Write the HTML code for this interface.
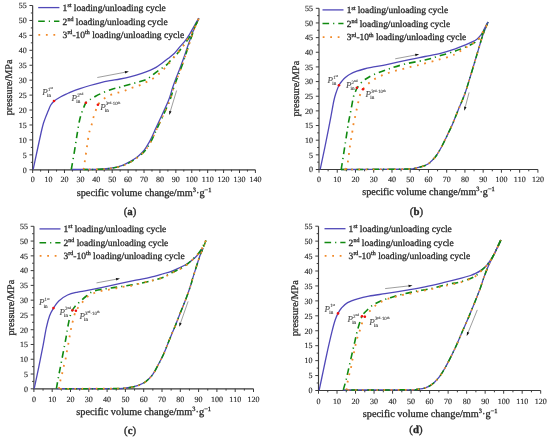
<!DOCTYPE html>
<html><head><meta charset="utf-8"><title>Pressure vs specific volume change</title>
<style>
html,body{margin:0;padding:0;background:#fff;}
svg{display:block}
text{text-rendering:geometricPrecision;font-variant-ligatures:none;font-kerning:none}
.tl{font-family:'Liberation Serif','Times New Roman',serif;font-size:8px;fill:#2a2a2a;stroke:#2a2a2a;stroke-width:0.15px}
.al{font-family:'Liberation Serif','Times New Roman',serif;font-size:10.15px;fill:#2a2a2a;stroke:#2a2a2a;stroke-width:0.3px}
.cap{font-family:'Liberation Serif','Times New Roman',serif;font-size:10.8px;font-weight:bold;fill:#2a2a2a;stroke:#2a2a2a;stroke-width:0.35px}
.lg{font-family:'Liberation Serif','Times New Roman',serif;font-size:9.4px;fill:#2a2a2a;stroke:#2a2a2a;stroke-width:0.3px}
.pl{font-family:'Liberation Serif','Times New Roman',serif;font-size:9px;fill:#505050;stroke:#505050;stroke-width:0.12px}
</style></head><body>
<svg width="550" height="438" viewBox="0 0 550 438">
<rect width="550" height="438" fill="#fff"/>
<g><path d="M32.65,5.5V169.8H255.4" fill="none" stroke="#3c3c3c" stroke-width="1.15"/>
<path d="M29.45,169.8H32.65M30.85,162.33H32.65M29.45,154.86H32.65M30.85,147.4H32.65M29.45,139.93H32.65M30.85,132.46H32.65M29.45,124.99H32.65M30.85,117.52H32.65M29.45,110.05H32.65M30.85,102.59H32.65M29.45,95.12H32.65M30.85,87.65H32.65M29.45,80.18H32.65M30.85,72.71H32.65M29.45,65.25H32.65M30.85,57.78H32.65M29.45,50.31H32.65M30.85,42.84H32.65M29.45,35.37H32.65M30.85,27.9H32.65M29.45,20.44H32.65M30.85,12.97H32.65M29.45,5.5H32.65M32.65,169.8V173M40.61,169.8V171.6M48.56,169.8V173M56.52,169.8V171.6M64.47,169.8V173M72.43,169.8V171.6M80.38,169.8V173M88.34,169.8V171.6M96.29,169.8V173M104.25,169.8V171.6M112.2,169.8V173M120.16,169.8V171.6M128.11,169.8V173M136.07,169.8V171.6M144.03,169.8V173M151.98,169.8V171.6M159.94,169.8V173M167.89,169.8V171.6M175.85,169.8V173M183.8,169.8V171.6M191.76,169.8V173M199.71,169.8V171.6M207.67,169.8V173M215.62,169.8V171.6M223.58,169.8V173M231.53,169.8V171.6M239.49,169.8V173M247.44,169.8V171.6M255.4,169.8V173" stroke="#3c3c3c" stroke-width="1"/>
<text x="26.75" y="172.6" text-anchor="end" class="tl">0</text>
<text x="26.75" y="157.66" text-anchor="end" class="tl">5</text>
<text x="26.75" y="142.73" text-anchor="end" class="tl">10</text>
<text x="26.75" y="127.79" text-anchor="end" class="tl">15</text>
<text x="26.75" y="112.85" text-anchor="end" class="tl">20</text>
<text x="26.75" y="97.92" text-anchor="end" class="tl">25</text>
<text x="26.75" y="82.98" text-anchor="end" class="tl">30</text>
<text x="26.75" y="68.05" text-anchor="end" class="tl">35</text>
<text x="26.75" y="53.11" text-anchor="end" class="tl">40</text>
<text x="26.75" y="38.17" text-anchor="end" class="tl">45</text>
<text x="26.75" y="23.24" text-anchor="end" class="tl">50</text>
<text x="26.75" y="8.3" text-anchor="end" class="tl">55</text>
<text x="32.65" y="182.1" text-anchor="middle" class="tl">0</text>
<text x="48.56" y="182.1" text-anchor="middle" class="tl">10</text>
<text x="64.47" y="182.1" text-anchor="middle" class="tl">20</text>
<text x="80.38" y="182.1" text-anchor="middle" class="tl">30</text>
<text x="96.29" y="182.1" text-anchor="middle" class="tl">40</text>
<text x="112.2" y="182.1" text-anchor="middle" class="tl">50</text>
<text x="128.11" y="182.1" text-anchor="middle" class="tl">60</text>
<text x="144.03" y="182.1" text-anchor="middle" class="tl">70</text>
<text x="159.94" y="182.1" text-anchor="middle" class="tl">80</text>
<text x="175.85" y="182.1" text-anchor="middle" class="tl">90</text>
<text x="191.76" y="182.1" text-anchor="middle" class="tl">100</text>
<text x="207.67" y="182.1" text-anchor="middle" class="tl">110</text>
<text x="223.58" y="182.1" text-anchor="middle" class="tl">120</text>
<text x="239.49" y="182.1" text-anchor="middle" class="tl">130</text>
<text x="255.4" y="182.1" text-anchor="middle" class="tl">140</text>
<text transform="translate(11.7,87.4) rotate(-90)" text-anchor="middle" class="al">pressure/MPa</text>
<text x="144" y="195.8" text-anchor="middle" class="al" style="font-size:10.3px">specific volume change/mm<tspan dy="-3.8" font-size="6.4">3</tspan><tspan dy="3.8">·g</tspan><tspan dy="-3.8" font-size="6.4">−1</tspan></text>
<text x="130" y="214.6" text-anchor="middle" class="cap"><tspan style="font-weight:normal">(</tspan>a<tspan style="font-weight:normal">)</tspan></text>
<path d="M38.2,7.6H59.4" stroke="#5048b8" stroke-width="1.3" fill="none"/>
<path d="M38.2,21.3H59.4" stroke="#108a10" stroke-width="1.6" fill="none" stroke-dasharray="6.6 4 1.2 4"/>
<path d="M38.4,34.8H59.4" stroke="#f28a2a" stroke-width="1.8" fill="none" stroke-dasharray="1.8 5.7"/>
<text x="62.6" y="10.9" class="lg" style="font-size:9.55px"><tspan>1</tspan><tspan dy="-3.8" font-size="6">st</tspan><tspan dy="3.8"> </tspan> loading/unloading cycle</text>
<text x="62.6" y="24.5" class="lg" style="font-size:9.55px"><tspan>2</tspan><tspan dy="-3.8" font-size="6">nd</tspan><tspan dy="3.8"> </tspan> loading/unloading cycle</text>
<text x="62.6" y="37.9" class="lg" style="font-size:9.55px"><tspan>3</tspan><tspan dy="-3.8" font-size="6">rd</tspan><tspan dy="3.8">-10</tspan><tspan dy="-3.8" font-size="6">th</tspan><tspan dy="3.8"> </tspan> loading/unloading cycle</text>
<path d="M198.8,18.4 C198.27,19.55 196.57,23.13 195.6,25.3 C194.63,27.47 193.87,29.18 193,31.4 C192.13,33.62 191.43,35.68 190.4,38.6 C189.37,41.52 188.03,45.33 186.8,48.9 C185.57,52.47 184.22,56.57 183,60 C181.78,63.43 180.67,66.45 179.5,69.5 C178.33,72.55 177.17,75.22 176,78.3 C174.83,81.38 173.72,84.38 172.5,88 C171.28,91.62 170.45,95.5 168.7,100 C166.95,104.5 164.13,110.33 162,115 C159.87,119.67 157.45,124.62 155.9,128 C154.35,131.38 153.85,132.87 152.7,135.3 C151.55,137.73 150.38,140.17 149,142.6 C147.62,145.03 146.07,147.77 144.4,149.9 C142.73,152.03 140.82,153.8 139,155.4 C137.18,157 135.33,158.28 133.5,159.5 C131.67,160.72 129.95,161.68 128,162.7 C126.05,163.72 124.65,164.7 121.8,165.6 C118.95,166.5 114.53,167.52 110.9,168.1 C107.27,168.68 104.32,168.88 100,169.1 C95.68,169.32 89.75,169.33 85,169.4 C80.25,169.47 73.75,169.48 71.5,169.5" stroke="#5048b8" stroke-width="1.3" fill="none" stroke-linejoin="round"/>
<path d="M198.8,18.4 C198.3,19.55 196.7,23.13 195.8,25.3 C194.9,27.47 194.2,29.18 193.4,31.4 C192.6,33.62 191.97,35.68 191,38.6 C190.03,41.52 188.77,45.33 187.6,48.9 C186.43,52.47 185.17,56.57 184,60 C182.83,63.43 181.73,66.45 180.6,69.5 C179.47,72.55 178.35,75.22 177.2,78.3 C176.05,81.38 174.9,84.38 173.7,88 C172.5,91.62 171.72,95.5 170,100 C168.28,104.5 165.52,110.33 163.4,115 C161.28,119.67 158.87,124.62 157.3,128 C155.73,131.38 155.15,132.87 154,135.3 C152.85,137.73 151.78,140.17 150.4,142.6 C149.02,145.03 147.4,147.77 145.7,149.9 C144,152.03 142.05,153.8 140.2,155.4 C138.35,157 136.47,158.25 134.6,159.5 C132.73,160.75 131.02,161.85 129,162.9 C126.98,163.95 125.42,164.92 122.5,165.8 C119.58,166.68 115.25,167.63 111.5,168.2 C107.75,168.77 104.65,168.98 100,169.2 C95.35,169.42 86.33,169.45 83.6,169.5" stroke="#108a10" stroke-width="1.5" fill="none" stroke-dasharray="6.6 4 1.2 4"/>
<path d="M198.8,18.4 C198.3,19.55 196.7,23.13 195.8,25.3 C194.9,27.47 194.2,29.18 193.4,31.4 C192.6,33.62 191.97,35.68 191,38.6 C190.03,41.52 188.77,45.33 187.6,48.9 C186.43,52.47 185.17,56.57 184,60 C182.83,63.43 181.73,66.45 180.6,69.5 C179.47,72.55 178.35,75.22 177.2,78.3 C176.05,81.38 174.9,84.38 173.7,88 C172.5,91.62 171.72,95.5 170,100 C168.28,104.5 165.52,110.33 163.4,115 C161.28,119.67 158.87,124.62 157.3,128 C155.73,131.38 155.15,132.87 154,135.3 C152.85,137.73 151.78,140.17 150.4,142.6 C149.02,145.03 147.4,147.77 145.7,149.9 C144,152.03 142.05,153.8 140.2,155.4 C138.35,157 136.47,158.25 134.6,159.5 C132.73,160.75 131.02,161.85 129,162.9 C126.98,163.95 125.42,164.92 122.5,165.8 C119.58,166.68 115.25,167.63 111.5,168.2 C107.75,168.77 104.65,168.98 100,169.2 C95.35,169.42 86.33,169.45 83.6,169.5" stroke="#f28a2a" stroke-width="1.6" fill="none" stroke-dasharray="1.6 5.5" stroke-dashoffset="3"/>
<path d="M33.2,169.3 C34.62,162.75 39.77,138.32 41.7,130 C43.63,121.68 43.75,122.52 44.8,119.4 C45.85,116.28 47,113.7 48,111.3 C49,108.9 49.8,106.68 50.8,105 C51.8,103.32 52.33,102.57 54,101.2 C55.67,99.83 58.53,98.08 60.8,96.8 C63.07,95.52 66.07,94.23 67.6,93.5 C69.13,92.77 67.93,93.2 70,92.4 C72.07,91.6 76.67,89.85 80,88.7 C83.33,87.55 86.67,86.48 90,85.5 C93.33,84.52 96.67,83.6 100,82.8 C103.33,82 106.67,81.33 110,80.7 C113.33,80.07 116.52,79.68 120,79 C123.48,78.32 127.27,77.53 130.9,76.6 C134.53,75.67 138.53,74.48 141.8,73.4 C145.07,72.32 148.13,71.1 150.5,70.1 C152.87,69.1 154.17,68.5 156,67.4 C157.83,66.3 159.5,64.97 161.5,63.5 C163.5,62.03 165.83,60.32 168,58.6 C170.17,56.88 172.5,55.2 174.5,53.2 C176.5,51.2 178.2,48.68 180,46.6 C181.8,44.52 183.73,42.72 185.3,40.7 C186.87,38.68 188.03,36.73 189.4,34.5 C190.77,32.27 191.93,30.02 193.5,27.3 C195.07,24.58 197.92,19.72 198.8,18.2" stroke="#5048b8" stroke-width="1.3" fill="none"/>
<path d="M71.3,169.5 C71.83,166.42 73.55,156.75 74.5,151 C75.45,145.25 76.2,139.92 77,135 C77.8,130.08 78.53,125.17 79.3,121.5 C80.07,117.83 80.85,115.37 81.6,113 C82.35,110.63 83.08,109.02 83.8,107.3 C84.52,105.58 84.95,103.92 85.9,102.7 C86.85,101.48 87.82,101.12 89.5,100 C91.18,98.88 93.58,97.3 96,96 C98.42,94.7 101.33,93.33 104,92.2 C106.67,91.07 109.5,89.98 112,89.2 C114.5,88.42 117.12,88 119,87.5 C120.88,87 120.77,86.92 123.3,86.2 C125.83,85.48 130.57,84.25 134.2,83.2 C137.83,82.15 142.3,81.02 145.1,79.9 C147.9,78.78 149.18,77.77 151,76.5 C152.82,75.23 154.25,73.63 156,72.3 C157.75,70.97 159.68,69.78 161.5,68.5 C163.32,67.22 165.32,66.02 166.9,64.6 C168.48,63.18 169.73,61.35 171,60 C172.27,58.65 173.3,57.73 174.5,56.5 C175.7,55.27 176.92,54.2 178.2,52.6 C179.48,51 180.85,48.72 182.2,46.9 C183.55,45.08 184.93,43.58 186.3,41.7 C187.67,39.82 189.03,38 190.4,35.6 C191.77,33.2 193.1,30.2 194.5,27.3 C195.9,24.4 198.08,19.72 198.8,18.2" stroke="#108a10" stroke-width="1.6" fill="none" stroke-dasharray="6.6 4 1.2 4"/>
<path d="M83.6,169.5 C84.08,166.25 85.6,156 86.5,150 C87.4,144 88.2,137.48 89,133.5 C89.8,129.52 90.63,128.52 91.3,126.1 C91.97,123.68 92.33,121.38 93,119 C93.67,116.62 94.48,114.18 95.3,111.8 C96.12,109.42 96.62,106.75 97.9,104.7 C99.18,102.65 101.07,101.03 103,99.5 C104.93,97.97 107.25,96.58 109.5,95.5 C111.75,94.42 114.08,93.75 116.5,93 C118.92,92.25 121.6,91.82 124,91 C126.4,90.18 128.57,88.95 130.9,88.1 C133.23,87.25 135.63,86.82 138,85.9 C140.37,84.98 142.83,83.68 145.1,82.6 C147.37,81.52 149.52,80.67 151.6,79.4 C153.68,78.13 155.68,76.58 157.6,75 C159.52,73.42 161.37,71.63 163.1,69.9 C164.83,68.17 166.37,66.48 168,64.6 C169.63,62.72 171.27,60.6 172.9,58.6 C174.53,56.6 176.12,54.67 177.8,52.6 C179.48,50.53 181.57,48.17 183,46.2 C184.43,44.23 185.15,42.73 186.4,40.8 C187.65,38.87 189.23,36.53 190.5,34.6 C191.77,32.67 192.62,31.93 194,29.2 C195.38,26.47 198,20.03 198.8,18.2" stroke="#f28a2a" stroke-width="1.8" fill="none" stroke-dasharray="1.8 5.7"/>
<path d="M97.3,77.5L124.97,72.25" stroke="#999" stroke-width="0.95"/>
<path d="M128.9,71.5L125.2,73.47L124.74,71.02Z" fill="#111"/>
<path d="M176.6,90.5L170.36,111.17" stroke="#999" stroke-width="0.95"/>
<path d="M169.2,115L169.16,110.81L171.55,111.53Z" fill="#111"/>
<circle cx="54" cy="101" r="1.3" fill="#ee1111"/>
<circle cx="85.9" cy="102.7" r="1.3" fill="#ee1111"/>
<circle cx="97.9" cy="104.7" r="1.3" fill="#ee1111"/>
<text x="42.3" y="94.8" class="pl" font-style="italic">P</text>
<text transform="translate(47,97) scale(0.5)" class="pl" style="font-size:10.2px;stroke-width:0.4px">in</text>
<text transform="translate(47.9,90.6) scale(0.5)" class="pl" style="font-size:9.6px;stroke-width:0.25px">1<tspan font-size="7.2" dy="-2.6">st</tspan></text>
<text x="71.6" y="100.7" class="pl" font-style="italic">P</text>
<text transform="translate(76.3,102.9) scale(0.5)" class="pl" style="font-size:10.2px;stroke-width:0.4px">in</text>
<text transform="translate(77.2,96.5) scale(0.5)" class="pl" style="font-size:9.6px;stroke-width:0.25px">2<tspan font-size="7.2" dy="-2.6">nd</tspan></text>
<text x="100.2" y="109.5" class="pl" font-style="italic">P</text>
<text transform="translate(104.9,111.7) scale(0.5)" class="pl" style="font-size:10.2px;stroke-width:0.4px">in</text>
<text transform="translate(105.8,105.3) scale(0.5)" class="pl" style="font-size:9.6px;stroke-width:0.25px">3<tspan font-size="7.2" dy="-2.6">rd</tspan><tspan dy="2.6">-10</tspan><tspan font-size="7.2" dy="-2.6">th</tspan></text></g>
<g><path d="M319,8.3V169.5H537.9" fill="none" stroke="#3c3c3c" stroke-width="1.15"/>
<path d="M315.8,169.5H319M317.2,162.17H319M315.8,154.85H319M317.2,147.52H319M315.8,140.19H319M317.2,132.86H319M315.8,125.54H319M317.2,118.21H319M315.8,110.88H319M317.2,103.55H319M315.8,96.23H319M317.2,88.9H319M315.8,81.57H319M317.2,74.25H319M315.8,66.92H319M317.2,59.59H319M315.8,52.26H319M317.2,44.94H319M315.8,37.61H319M317.2,30.28H319M315.8,22.95H319M317.2,15.63H319M315.8,8.3H319M319,169.5V172.7M328.12,169.5V171.3M337.24,169.5V172.7M346.36,169.5V171.3M355.48,169.5V172.7M364.6,169.5V171.3M373.73,169.5V172.7M382.85,169.5V171.3M391.97,169.5V172.7M401.09,169.5V171.3M410.21,169.5V172.7M419.33,169.5V171.3M428.45,169.5V172.7M437.57,169.5V171.3M446.69,169.5V172.7M455.81,169.5V171.3M464.93,169.5V172.7M474.05,169.5V171.3M483.17,169.5V172.7M492.3,169.5V171.3M501.42,169.5V172.7M510.54,169.5V171.3M519.66,169.5V172.7M528.78,169.5V171.3M537.9,169.5V172.7" stroke="#3c3c3c" stroke-width="1"/>
<text x="313.1" y="172.3" text-anchor="end" class="tl">0</text>
<text x="313.1" y="157.65" text-anchor="end" class="tl">5</text>
<text x="313.1" y="142.99" text-anchor="end" class="tl">10</text>
<text x="313.1" y="128.34" text-anchor="end" class="tl">15</text>
<text x="313.1" y="113.68" text-anchor="end" class="tl">20</text>
<text x="313.1" y="99.03" text-anchor="end" class="tl">25</text>
<text x="313.1" y="84.37" text-anchor="end" class="tl">30</text>
<text x="313.1" y="69.72" text-anchor="end" class="tl">35</text>
<text x="313.1" y="55.06" text-anchor="end" class="tl">40</text>
<text x="313.1" y="40.41" text-anchor="end" class="tl">45</text>
<text x="313.1" y="25.75" text-anchor="end" class="tl">50</text>
<text x="313.1" y="11.1" text-anchor="end" class="tl">55</text>
<text x="319" y="182.1" text-anchor="middle" class="tl">0</text>
<text x="337.24" y="182.1" text-anchor="middle" class="tl">10</text>
<text x="355.48" y="182.1" text-anchor="middle" class="tl">20</text>
<text x="373.73" y="182.1" text-anchor="middle" class="tl">30</text>
<text x="391.97" y="182.1" text-anchor="middle" class="tl">40</text>
<text x="410.21" y="182.1" text-anchor="middle" class="tl">50</text>
<text x="428.45" y="182.1" text-anchor="middle" class="tl">60</text>
<text x="446.69" y="182.1" text-anchor="middle" class="tl">70</text>
<text x="464.93" y="182.1" text-anchor="middle" class="tl">80</text>
<text x="483.17" y="182.1" text-anchor="middle" class="tl">90</text>
<text x="501.42" y="182.1" text-anchor="middle" class="tl">100</text>
<text x="519.66" y="182.1" text-anchor="middle" class="tl">110</text>
<text x="537.9" y="182.1" text-anchor="middle" class="tl">120</text>
<text transform="translate(298.8,88.7) rotate(-90)" text-anchor="middle" class="al">pressure/MPa</text>
<text x="428.5" y="195.2" text-anchor="middle" class="al" style="font-size:10.12px">specific volume change/mm<tspan dy="-3.8" font-size="6.4">3</tspan><tspan dy="3.8">·g</tspan><tspan dy="-3.8" font-size="6.4">−1</tspan></text>
<text x="416.4" y="214.5" text-anchor="middle" class="cap"><tspan style="font-weight:normal">(</tspan>b<tspan style="font-weight:normal">)</tspan></text>
<path d="M322.5,9.9H343.5" stroke="#5048b8" stroke-width="1.3" fill="none"/>
<path d="M322.5,23.5H343.5" stroke="#108a10" stroke-width="1.6" fill="none" stroke-dasharray="6.6 4 1.2 4"/>
<path d="M322.7,37.2H343.5" stroke="#f28a2a" stroke-width="1.8" fill="none" stroke-dasharray="1.8 5.7"/>
<text x="346.7" y="13.4" class="lg" style="font-size:9.4px"><tspan>1</tspan><tspan dy="-3.8" font-size="6">st</tspan><tspan dy="3.8"> </tspan> loading/unloading cycle</text>
<text x="346.7" y="26.9" class="lg" style="font-size:9.4px"><tspan>2</tspan><tspan dy="-3.8" font-size="6">nd</tspan><tspan dy="3.8"> </tspan> loading/unloading cycle</text>
<text x="346.7" y="40.3" class="lg" style="font-size:9.4px"><tspan>3</tspan><tspan dy="-3.8" font-size="6">rd</tspan><tspan dy="3.8">-10</tspan><tspan dy="-3.8" font-size="6">th</tspan><tspan dy="3.8"> </tspan> loading/unloading cycle</text>
<path d="M488,22 C487.43,23.4 485.6,27.8 484.6,30.4 C483.6,33 482.95,34.68 482,37.6 C481.05,40.52 480.02,44.17 478.9,47.9 C477.78,51.63 476.65,55.48 475.3,60 C473.95,64.52 472.43,69.67 470.8,75 C469.17,80.33 467,87.58 465.5,92 C464,96.42 463.02,98.5 461.8,101.5 C460.58,104.5 459.75,106.22 458.2,110 C456.65,113.78 454.4,119.83 452.5,124.2 C450.6,128.57 448.68,132.32 446.8,136.2 C444.92,140.08 443.08,144.08 441.2,147.5 C439.32,150.92 437.63,153.98 435.5,156.7 C433.37,159.42 430.77,162.13 428.4,163.8 C426.03,165.47 423.67,165.93 421.3,166.7 C418.93,167.47 416.92,168 414.2,168.4 C411.48,168.8 417.2,168.92 405,169.1 C392.8,169.28 351.67,169.43 341,169.5" stroke="#5048b8" stroke-width="1.3" fill="none" stroke-linejoin="round"/>
<path d="M488,22 C487.43,23.4 485.6,27.8 484.6,30.4 C483.6,33 482.95,34.68 482,37.6 C481.05,40.52 480.02,44.17 478.9,47.9 C477.78,51.63 476.65,55.48 475.3,60 C473.95,64.52 472.43,69.67 470.8,75 C469.17,80.33 467,87.58 465.5,92 C464,96.42 463.02,98.5 461.8,101.5 C460.58,104.5 459.75,106.22 458.2,110 C456.65,113.78 454.4,119.83 452.5,124.2 C450.6,128.57 448.68,132.32 446.8,136.2 C444.92,140.08 443.08,144.08 441.2,147.5 C439.32,150.92 437.63,153.98 435.5,156.7 C433.37,159.42 430.77,162.13 428.4,163.8 C426.03,165.47 423.67,165.93 421.3,166.7 C418.93,167.47 416.92,168 414.2,168.4 C411.48,168.8 417.2,168.92 405,169.1 C392.8,169.28 351.67,169.43 341,169.5" stroke="#108a10" stroke-width="1.5" fill="none" stroke-dasharray="6.6 4 1.2 4"/>
<path d="M488,22 C487.43,23.4 485.6,27.8 484.6,30.4 C483.6,33 482.95,34.68 482,37.6 C481.05,40.52 480.02,44.17 478.9,47.9 C477.78,51.63 476.65,55.48 475.3,60 C473.95,64.52 472.43,69.67 470.8,75 C469.17,80.33 467,87.58 465.5,92 C464,96.42 463.02,98.5 461.8,101.5 C460.58,104.5 459.75,106.22 458.2,110 C456.65,113.78 454.4,119.83 452.5,124.2 C450.6,128.57 448.68,132.32 446.8,136.2 C444.92,140.08 443.08,144.08 441.2,147.5 C439.32,150.92 437.63,153.98 435.5,156.7 C433.37,159.42 430.77,162.13 428.4,163.8 C426.03,165.47 423.67,165.93 421.3,166.7 C418.93,167.47 416.92,168 414.2,168.4 C411.48,168.8 417.2,168.92 405,169.1 C392.8,169.28 351.67,169.43 341,169.5" stroke="#f28a2a" stroke-width="1.6" fill="none" stroke-dasharray="1.6 5.5" stroke-dashoffset="3"/>
<path d="M320.2,169.3 C320.97,165.7 323.45,154.23 324.8,147.7 C326.15,141.17 327.23,135.55 328.3,130.1 C329.37,124.65 330.28,119.85 331.2,115 C332.12,110.15 333.03,104.58 333.8,101 C334.57,97.42 334.93,96.12 335.8,93.5 C336.67,90.88 337.92,87.43 339,85.3 C340.08,83.17 341.15,82.07 342.3,80.7 C343.45,79.33 344.7,78.13 345.9,77.1 C347.1,76.07 347.68,75.48 349.5,74.5 C351.32,73.52 354.37,72.12 356.8,71.2 C359.23,70.28 361.67,69.63 364.1,69 C366.53,68.37 367.45,68.18 371.4,67.4 C375.35,66.62 381.27,65.63 387.8,64.3 C394.33,62.97 404.4,60.7 410.6,59.4 C416.8,58.1 420.02,57.52 425,56.5 C429.98,55.48 435.45,54.57 440.5,53.3 C445.55,52.03 451.12,50.32 455.3,48.9 C459.48,47.48 462.7,46 465.6,44.8 C468.5,43.6 470.82,42.63 472.7,41.7 C474.58,40.77 475.7,40.13 476.9,39.2 C478.1,38.27 478.97,37.22 479.9,36.1 C480.83,34.98 481.63,33.97 482.5,32.5 C483.37,31.03 484.18,29.05 485.1,27.3 C486.02,25.55 487.52,22.88 488,22" stroke="#5048b8" stroke-width="1.3" fill="none"/>
<path d="M341.2,169.5 C341.48,167.68 342.22,162.98 342.9,158.6 C343.58,154.22 344.5,148.35 345.3,143.2 C346.1,138.05 347.18,131.07 347.7,127.7 C348.22,124.33 347.9,125.7 348.4,123 C348.9,120.3 349.85,115.88 350.7,111.5 C351.55,107.12 352.68,100.07 353.5,96.7 C354.32,93.33 355.02,92.72 355.6,91.3 C356.18,89.88 356.2,89.5 357,88.2 C357.8,86.9 359.07,84.95 360.4,83.5 C361.73,82.05 362.8,80.98 365,79.5 C367.2,78.02 369.8,76.3 373.6,74.6 C377.4,72.9 382.58,71.07 387.8,69.3 C393.02,67.53 398.7,65.55 404.9,64 C411.1,62.45 419.07,61.4 425,60 C430.93,58.6 435.45,57.1 440.5,55.6 C445.55,54.1 451.47,52.28 455.3,51 C459.13,49.72 460.93,48.93 463.5,47.9 C466.07,46.87 468.65,45.83 470.7,44.8 C472.75,43.77 474.27,42.9 475.8,41.7 C477.33,40.5 478.78,38.88 479.9,37.6 C481.02,36.32 481.55,35.72 482.5,34 C483.45,32.28 484.68,29.3 485.6,27.3 C486.52,25.3 487.6,22.88 488,22" stroke="#108a10" stroke-width="1.6" fill="none" stroke-dasharray="6.6 4 1.2 4"/>
<path d="M346,169.5 C346.32,168.18 347.27,165.33 347.9,161.6 C348.53,157.87 349.08,151.95 349.8,147.1 C350.52,142.25 351.58,136.33 352.2,132.5 C352.82,128.67 353.05,126.55 353.5,124.1 C353.95,121.65 354.42,120.05 354.9,117.8 C355.38,115.55 355.87,113.07 356.4,110.6 C356.93,108.13 357.57,105.42 358.1,103 C358.63,100.58 358.78,98.38 359.6,96.1 C360.42,93.82 361.63,91.28 363,89.3 C364.37,87.32 366.13,85.75 367.8,84.2 C369.47,82.65 371,81.3 373,80 C375,78.7 377.52,77.47 379.8,76.4 C382.08,75.33 384.42,74.47 386.7,73.6 C388.98,72.73 391.13,71.88 393.5,71.2 C395.87,70.52 398.47,70.1 400.9,69.5 C403.33,68.9 405.72,68.22 408.1,67.6 C410.48,66.98 412.88,66.37 415.2,65.8 C417.52,65.23 418.23,65.17 422,64.2 C425.77,63.23 433.02,61.35 437.8,60 C442.58,58.65 447.45,57.27 450.7,56.1 C453.95,54.93 455.17,54.2 457.3,53 C459.43,51.8 461.43,50.18 463.5,48.9 C465.57,47.62 467.65,46.58 469.7,45.3 C471.75,44.02 473.92,42.65 475.8,41.2 C477.68,39.75 479.8,38.23 481,36.6 C482.2,34.97 482.23,32.95 483,31.4 C483.77,29.85 484.77,28.87 485.6,27.3 C486.43,25.73 487.6,22.88 488,22" stroke="#f28a2a" stroke-width="1.8" fill="none" stroke-dasharray="1.8 5.7"/>
<path d="M395.2,58.8L415.27,55.04" stroke="#999" stroke-width="0.95"/>
<path d="M419.2,54.3L415.5,56.27L415.04,53.81Z" fill="#111"/>
<path d="M469.1,92.4L465.31,106.93" stroke="#999" stroke-width="0.95"/>
<path d="M464.3,110.8L464.1,106.61L466.52,107.25Z" fill="#111"/>
<circle cx="339" cy="85.2" r="1.3" fill="#ee1111"/>
<circle cx="356.9" cy="87.8" r="1.3" fill="#ee1111"/>
<circle cx="363" cy="89.2" r="1.3" fill="#ee1111"/>
<text x="327.6" y="82.9" class="pl" font-style="italic">P</text>
<text transform="translate(332.3,85.1) scale(0.5)" class="pl" style="font-size:10.2px;stroke-width:0.4px">in</text>
<text transform="translate(333.2,78.7) scale(0.5)" class="pl" style="font-size:9.6px;stroke-width:0.25px">1<tspan font-size="7.2" dy="-2.6">st</tspan></text>
<text x="345.9" y="87.8" class="pl" font-style="italic">P</text>
<text transform="translate(350.6,90) scale(0.5)" class="pl" style="font-size:10.2px;stroke-width:0.4px">in</text>
<text transform="translate(351.5,83.6) scale(0.5)" class="pl" style="font-size:9.6px;stroke-width:0.25px">2<tspan font-size="7.2" dy="-2.6">nd</tspan></text>
<text x="365.6" y="97.1" class="pl" font-style="italic">P</text>
<text transform="translate(370.3,99.3) scale(0.5)" class="pl" style="font-size:10.2px;stroke-width:0.4px">in</text>
<text transform="translate(371.2,92.9) scale(0.5)" class="pl" style="font-size:9.6px;stroke-width:0.25px">3<tspan font-size="7.2" dy="-2.6">rd</tspan><tspan dy="2.6">-10</tspan><tspan font-size="7.2" dy="-2.6">th</tspan></text></g>
<g><path d="M33.9,226.3V388.8H253.5" fill="none" stroke="#3c3c3c" stroke-width="1.15"/>
<path d="M30.7,388.8H33.9M32.1,381.41H33.9M30.7,374.03H33.9M32.1,366.64H33.9M30.7,359.25H33.9M32.1,351.87H33.9M30.7,344.48H33.9M32.1,337.1H33.9M30.7,329.71H33.9M32.1,322.32H33.9M30.7,314.94H33.9M32.1,307.55H33.9M30.7,300.16H33.9M32.1,292.78H33.9M30.7,285.39H33.9M32.1,278H33.9M30.7,270.62H33.9M32.1,263.23H33.9M30.7,255.85H33.9M32.1,248.46H33.9M30.7,241.07H33.9M32.1,233.69H33.9M30.7,226.3H33.9M33.9,388.8V392M43.05,388.8V390.6M52.2,388.8V392M61.35,388.8V390.6M70.5,388.8V392M79.65,388.8V390.6M88.8,388.8V392M97.95,388.8V390.6M107.1,388.8V392M116.25,388.8V390.6M125.4,388.8V392M134.55,388.8V390.6M143.7,388.8V392M152.85,388.8V390.6M162,388.8V392M171.15,388.8V390.6M180.3,388.8V392M189.45,388.8V390.6M198.6,388.8V392M207.75,388.8V390.6M216.9,388.8V392M226.05,388.8V390.6M235.2,388.8V392M244.35,388.8V390.6M253.5,388.8V392" stroke="#3c3c3c" stroke-width="1"/>
<text x="28" y="391.6" text-anchor="end" class="tl">0</text>
<text x="28" y="376.83" text-anchor="end" class="tl">5</text>
<text x="28" y="362.05" text-anchor="end" class="tl">10</text>
<text x="28" y="347.28" text-anchor="end" class="tl">15</text>
<text x="28" y="332.51" text-anchor="end" class="tl">20</text>
<text x="28" y="317.74" text-anchor="end" class="tl">25</text>
<text x="28" y="302.96" text-anchor="end" class="tl">30</text>
<text x="28" y="288.19" text-anchor="end" class="tl">35</text>
<text x="28" y="273.42" text-anchor="end" class="tl">40</text>
<text x="28" y="258.65" text-anchor="end" class="tl">45</text>
<text x="28" y="243.87" text-anchor="end" class="tl">50</text>
<text x="28" y="229.1" text-anchor="end" class="tl">55</text>
<text x="33.9" y="401.8" text-anchor="middle" class="tl">0</text>
<text x="52.2" y="401.8" text-anchor="middle" class="tl">10</text>
<text x="70.5" y="401.8" text-anchor="middle" class="tl">20</text>
<text x="88.8" y="401.8" text-anchor="middle" class="tl">30</text>
<text x="107.1" y="401.8" text-anchor="middle" class="tl">40</text>
<text x="125.4" y="401.8" text-anchor="middle" class="tl">50</text>
<text x="143.7" y="401.8" text-anchor="middle" class="tl">60</text>
<text x="162" y="401.8" text-anchor="middle" class="tl">70</text>
<text x="180.3" y="401.8" text-anchor="middle" class="tl">80</text>
<text x="198.6" y="401.8" text-anchor="middle" class="tl">90</text>
<text x="216.9" y="401.8" text-anchor="middle" class="tl">100</text>
<text x="235.2" y="401.8" text-anchor="middle" class="tl">110</text>
<text x="253.5" y="401.8" text-anchor="middle" class="tl">120</text>
<text transform="translate(13.5,307.6) rotate(-90)" text-anchor="middle" class="al">pressure/MPa</text>
<text x="143.6" y="414.5" text-anchor="middle" class="al" style="font-size:10.3px">specific volume change/mm<tspan dy="-3.8" font-size="6.4">3</tspan><tspan dy="3.8">·g</tspan><tspan dy="-3.8" font-size="6.4">−1</tspan></text>
<text x="130.1" y="433.6" text-anchor="middle" class="cap"><tspan style="font-weight:normal">(</tspan>c<tspan style="font-weight:normal">)</tspan></text>
<path d="M39.5,228.9H60.5" stroke="#5048b8" stroke-width="1.3" fill="none"/>
<path d="M39.5,242.7H60.5" stroke="#108a10" stroke-width="1.6" fill="none" stroke-dasharray="6.6 4 1.2 4"/>
<path d="M39.7,255.8H60.5" stroke="#f28a2a" stroke-width="1.8" fill="none" stroke-dasharray="1.8 5.7"/>
<text x="63.6" y="232.1" class="lg" style="font-size:9.5px"><tspan>1</tspan><tspan dy="-3.8" font-size="6">st</tspan><tspan dy="3.8"> </tspan> loading/unloading cycle</text>
<text x="63.6" y="245.5" class="lg" style="font-size:9.5px"><tspan>2</tspan><tspan dy="-3.8" font-size="6">nd</tspan><tspan dy="3.8"> </tspan> loading/unloading cycle</text>
<text x="63.6" y="258.9" class="lg" style="font-size:9.5px"><tspan>3</tspan><tspan dy="-3.8" font-size="6">rd</tspan><tspan dy="3.8">-10</tspan><tspan dy="-3.8" font-size="6">th</tspan><tspan dy="3.8"> </tspan> loading/unloading cycle</text>
<path d="M202.9,248.2 C202.43,249.38 201.13,252.4 200.1,255.3 C199.07,258.2 197.95,261.72 196.7,265.6 C195.45,269.48 193.58,275.37 192.6,278.6 C191.62,281.83 191.9,281.65 190.8,285 C189.7,288.35 187.72,294.13 186,298.7 C184.28,303.27 182.3,307.85 180.5,312.4 C178.7,316.95 176.55,322.65 175.2,326 C173.85,329.35 173.33,330.28 172.4,332.5 C171.47,334.72 171.02,335.8 169.6,339.3 C168.18,342.8 165.8,349.25 163.9,353.5 C162,357.75 160.08,361.27 158.2,364.8 C156.32,368.33 154.72,371.87 152.6,374.7 C150.48,377.53 147.87,380.02 145.5,381.8 C143.13,383.58 140.77,384.5 138.4,385.4 C136.03,386.3 133.67,386.73 131.3,387.2 C128.93,387.67 126.92,387.97 124.2,388.2 C121.48,388.43 126.3,388.52 115,388.6 C103.7,388.68 66.17,388.68 56.4,388.7" stroke="#5048b8" stroke-width="1.3" fill="none" stroke-linejoin="round"/>
<path d="M202.9,248.2 C202.43,249.38 201.13,252.4 200.1,255.3 C199.07,258.2 197.95,261.72 196.7,265.6 C195.45,269.48 193.58,275.37 192.6,278.6 C191.62,281.83 191.9,281.65 190.8,285 C189.7,288.35 187.72,294.13 186,298.7 C184.28,303.27 182.3,307.85 180.5,312.4 C178.7,316.95 176.55,322.65 175.2,326 C173.85,329.35 173.33,330.28 172.4,332.5 C171.47,334.72 171.02,335.8 169.6,339.3 C168.18,342.8 165.8,349.25 163.9,353.5 C162,357.75 160.08,361.27 158.2,364.8 C156.32,368.33 154.72,371.87 152.6,374.7 C150.48,377.53 147.87,380.02 145.5,381.8 C143.13,383.58 140.77,384.5 138.4,385.4 C136.03,386.3 133.67,386.73 131.3,387.2 C128.93,387.67 126.92,387.97 124.2,388.2 C121.48,388.43 126.3,388.52 115,388.6 C103.7,388.68 66.17,388.68 56.4,388.7" stroke="#108a10" stroke-width="1.5" fill="none" stroke-dasharray="6.6 4 1.2 4"/>
<path d="M205.9,240.5 C205.52,241.58 204.33,245.08 203.6,247 C202.87,248.92 202.08,250.62 201.5,252 C200.92,253.38 200.33,254.75 200.1,255.3" stroke="#108a10" stroke-width="1.5" fill="none" stroke-dasharray="6.6 4 1.2 4"/>
<path d="M205.9,240.5 C205.52,241.58 204.33,245.08 203.6,247 C202.87,248.92 202.08,250.62 201.5,252 C200.92,253.38 200.33,254.75 200.1,255.3" stroke="#f28a2a" stroke-width="1.6" fill="none" stroke-dasharray="1.6 5.5" stroke-dashoffset="3"/>
<path d="M202.9,248.2 C202.43,249.38 201.13,252.4 200.1,255.3 C199.07,258.2 197.95,261.72 196.7,265.6 C195.45,269.48 193.58,275.37 192.6,278.6 C191.62,281.83 191.9,281.65 190.8,285 C189.7,288.35 187.72,294.13 186,298.7 C184.28,303.27 182.3,307.85 180.5,312.4 C178.7,316.95 176.55,322.65 175.2,326 C173.85,329.35 173.33,330.28 172.4,332.5 C171.47,334.72 171.02,335.8 169.6,339.3 C168.18,342.8 165.8,349.25 163.9,353.5 C162,357.75 160.08,361.27 158.2,364.8 C156.32,368.33 154.72,371.87 152.6,374.7 C150.48,377.53 147.87,380.02 145.5,381.8 C143.13,383.58 140.77,384.5 138.4,385.4 C136.03,386.3 133.67,386.73 131.3,387.2 C128.93,387.67 126.92,387.97 124.2,388.2 C121.48,388.43 126.3,388.52 115,388.6 C103.7,388.68 66.17,388.68 56.4,388.7" stroke="#f28a2a" stroke-width="1.6" fill="none" stroke-dasharray="1.6 5.5" stroke-dashoffset="3"/>
<path d="M34.2,388.7 C34.95,385.13 37.22,374.52 38.7,367.3 C40.18,360.08 41.83,351.97 43.1,345.4 C44.37,338.83 45.22,332.83 46.3,327.9 C47.38,322.97 48.4,319.1 49.6,315.8 C50.8,312.5 51.97,310.58 53.5,308.1 C55.03,305.62 56.45,303.08 58.8,300.9 C61.15,298.72 64.45,296.47 67.6,295 C70.75,293.53 74.8,292.78 77.7,292.1 C80.6,291.42 79.53,291.98 85,290.9 C90.47,289.82 102.02,287.38 110.5,285.6 C118.98,283.82 129.32,281.57 135.9,280.2 C142.48,278.83 145.37,278.5 150,277.4 C154.63,276.3 160.37,274.53 163.7,273.6 C167.03,272.67 167.58,272.68 170,271.8 C172.42,270.92 175.47,269.57 178.2,268.3 C180.93,267.03 183.65,265.92 186.4,264.2 C189.15,262.48 192.42,260.05 194.7,258 C196.98,255.95 198.73,253.53 200.1,251.9 C201.47,250.27 202.43,248.82 202.9,248.2" stroke="#5048b8" stroke-width="1.3" fill="none"/>
<path d="M56.4,388.7 C56.75,386.72 57.65,381.35 58.5,376.8 C59.35,372.25 60.32,367.53 61.5,361.4 C62.68,355.27 64.68,344.98 65.6,340 C66.52,335.02 66.45,334.6 67,331.5 C67.55,328.4 68.27,324.33 68.9,321.4 C69.53,318.47 70.22,315.77 70.8,313.9 C71.38,312.03 71.67,311.48 72.4,310.2 C73.13,308.92 74.12,307.47 75.2,306.2 C76.28,304.93 77.02,304.3 78.9,302.6 C80.78,300.9 83.9,297.97 86.5,296 C89.1,294.03 90.5,292.12 94.5,290.8 C98.5,289.48 104.67,289.02 110.5,288.1 C116.33,287.18 122.92,286.45 129.5,285.3 C136.08,284.15 144.3,282.53 150,281.2 C155.7,279.87 160.37,278.6 163.7,277.3 C167.03,276 167.58,274.67 170,273.4 C172.42,272.13 175.47,271.12 178.2,269.7 C180.93,268.28 183.65,266.97 186.4,264.9 C189.15,262.83 192.42,259.58 194.7,257.3 C196.98,255.02 198.62,253.25 200.1,251.2 C201.58,249.15 202.63,246.78 203.6,245 C204.57,243.22 205.52,241.25 205.9,240.5" stroke="#108a10" stroke-width="1.6" fill="none" stroke-dasharray="6.6 4 1.2 4"/>
<path d="M59,388.7 C59.22,387.42 59.78,383.48 60.3,381 C60.82,378.52 61.52,376.28 62.1,373.8 C62.68,371.32 63.22,368.57 63.8,366.1 C64.38,363.63 65.1,361.37 65.6,359 C66.1,356.63 66.37,354.32 66.8,351.9 C67.23,349.48 67.75,346.97 68.2,344.5 C68.65,342.03 69.07,339.52 69.5,337.1 C69.93,334.68 70.32,332.37 70.8,330 C71.28,327.63 71.83,325.27 72.4,322.9 C72.97,320.53 73.62,317.83 74.2,315.8 C74.78,313.77 75.32,311.97 75.9,310.7 C76.48,309.43 76.57,309.67 77.7,308.2 C78.83,306.73 81.13,303.78 82.7,301.9 C84.27,300.02 85.45,298.27 87.1,296.9 C88.75,295.53 90.4,294.65 92.6,293.7 C94.8,292.75 97.85,291.83 100.3,291.2 C102.75,290.57 104.87,290.33 107.3,289.9 C109.73,289.47 112.47,289.08 114.9,288.6 C117.33,288.12 119.47,287.42 121.9,287 C124.33,286.58 127.07,286.53 129.5,286.1 C131.93,285.67 134.17,284.97 136.5,284.4 C138.83,283.83 141.05,283.32 143.5,282.7 C145.95,282.08 147.83,281.6 151.2,280.7 C154.57,279.8 160.57,278.45 163.7,277.3 C166.83,276.15 167.58,275.02 170,273.8 C172.42,272.58 175.47,271.47 178.2,270 C180.93,268.53 183.65,267.08 186.4,265 C189.15,262.92 192.42,259.75 194.7,257.5 C196.98,255.25 198.62,253.53 200.1,251.5 C201.58,249.47 202.63,247.13 203.6,245.3 C204.57,243.47 205.52,241.3 205.9,240.5" stroke="#f28a2a" stroke-width="1.8" fill="none" stroke-dasharray="1.8 5.7"/>
<path d="M96.5,282.9L116.07,279.24" stroke="#999" stroke-width="0.95"/>
<path d="M120,278.5L116.3,280.46L115.84,278.01Z" fill="#111"/>
<path d="M188.1,301.4L180.52,323.03" stroke="#999" stroke-width="0.95"/>
<path d="M179.2,326.8L179.34,322.61L181.7,323.44Z" fill="#111"/>
<circle cx="53.5" cy="308.1" r="1.3" fill="#ee1111"/>
<circle cx="72.4" cy="310.2" r="1.3" fill="#ee1111"/>
<circle cx="75.9" cy="310.7" r="1.3" fill="#ee1111"/>
<text x="39" y="305.3" class="pl" font-style="italic">P</text>
<text transform="translate(43.7,307.5) scale(0.5)" class="pl" style="font-size:10.2px;stroke-width:0.4px">in</text>
<text transform="translate(44.6,301.1) scale(0.5)" class="pl" style="font-size:9.6px;stroke-width:0.25px">1<tspan font-size="7.2" dy="-2.6">st</tspan></text>
<text x="59.4" y="314.5" class="pl" font-style="italic">P</text>
<text transform="translate(64.1,316.7) scale(0.5)" class="pl" style="font-size:10.2px;stroke-width:0.4px">in</text>
<text transform="translate(65,310.3) scale(0.5)" class="pl" style="font-size:9.6px;stroke-width:0.25px">2<tspan font-size="7.2" dy="-2.6">nd</tspan></text>
<text x="79.4" y="318.9" class="pl" font-style="italic">P</text>
<text transform="translate(84.1,321.1) scale(0.5)" class="pl" style="font-size:10.2px;stroke-width:0.4px">in</text>
<text transform="translate(85,314.7) scale(0.5)" class="pl" style="font-size:9.6px;stroke-width:0.25px">3<tspan font-size="7.2" dy="-2.6">rd</tspan><tspan dy="2.6">-10</tspan><tspan font-size="7.2" dy="-2.6">th</tspan></text></g>
<g><path d="M318.5,226.2V390.5H540.7" fill="none" stroke="#3c3c3c" stroke-width="1.15"/>
<path d="M315.3,390.5H318.5M316.7,383.03H318.5M315.3,375.56H318.5M316.7,368.1H318.5M315.3,360.63H318.5M316.7,353.16H318.5M315.3,345.69H318.5M316.7,338.22H318.5M315.3,330.75H318.5M316.7,323.29H318.5M315.3,315.82H318.5M316.7,308.35H318.5M315.3,300.88H318.5M316.7,293.41H318.5M315.3,285.95H318.5M316.7,278.48H318.5M315.3,271.01H318.5M316.7,263.54H318.5M315.3,256.07H318.5M316.7,248.6H318.5M315.3,241.14H318.5M316.7,233.67H318.5M315.3,226.2H318.5M318.5,390.5V393.7M327.76,390.5V392.3M337.02,390.5V393.7M346.27,390.5V392.3M355.53,390.5V393.7M364.79,390.5V392.3M374.05,390.5V393.7M383.31,390.5V392.3M392.57,390.5V393.7M401.82,390.5V392.3M411.08,390.5V393.7M420.34,390.5V392.3M429.6,390.5V393.7M438.86,390.5V392.3M448.12,390.5V393.7M457.38,390.5V392.3M466.63,390.5V393.7M475.89,390.5V392.3M485.15,390.5V393.7M494.41,390.5V392.3M503.67,390.5V393.7M512.93,390.5V392.3M522.18,390.5V393.7M531.44,390.5V392.3M540.7,390.5V393.7" stroke="#3c3c3c" stroke-width="1"/>
<text x="312.6" y="393.3" text-anchor="end" class="tl">0</text>
<text x="312.6" y="378.36" text-anchor="end" class="tl">5</text>
<text x="312.6" y="363.43" text-anchor="end" class="tl">10</text>
<text x="312.6" y="348.49" text-anchor="end" class="tl">15</text>
<text x="312.6" y="333.55" text-anchor="end" class="tl">20</text>
<text x="312.6" y="318.62" text-anchor="end" class="tl">25</text>
<text x="312.6" y="303.68" text-anchor="end" class="tl">30</text>
<text x="312.6" y="288.75" text-anchor="end" class="tl">35</text>
<text x="312.6" y="273.81" text-anchor="end" class="tl">40</text>
<text x="312.6" y="258.87" text-anchor="end" class="tl">45</text>
<text x="312.6" y="243.94" text-anchor="end" class="tl">50</text>
<text x="312.6" y="229" text-anchor="end" class="tl">55</text>
<text x="318.5" y="403.5" text-anchor="middle" class="tl">0</text>
<text x="337.02" y="403.5" text-anchor="middle" class="tl">10</text>
<text x="355.53" y="403.5" text-anchor="middle" class="tl">20</text>
<text x="374.05" y="403.5" text-anchor="middle" class="tl">30</text>
<text x="392.57" y="403.5" text-anchor="middle" class="tl">40</text>
<text x="411.08" y="403.5" text-anchor="middle" class="tl">50</text>
<text x="429.6" y="403.5" text-anchor="middle" class="tl">60</text>
<text x="448.12" y="403.5" text-anchor="middle" class="tl">70</text>
<text x="466.63" y="403.5" text-anchor="middle" class="tl">80</text>
<text x="485.15" y="403.5" text-anchor="middle" class="tl">90</text>
<text x="503.67" y="403.5" text-anchor="middle" class="tl">100</text>
<text x="522.18" y="403.5" text-anchor="middle" class="tl">110</text>
<text x="540.7" y="403.5" text-anchor="middle" class="tl">120</text>
<text transform="translate(297.6,308.2) rotate(-90)" text-anchor="middle" class="al">pressure/MPa</text>
<text x="430.1" y="416.5" text-anchor="middle" class="al" style="font-size:10.3px">specific volume change/mm<tspan dy="-3.8" font-size="6.4">3</tspan><tspan dy="3.8">·g</tspan><tspan dy="-3.8" font-size="6.4">−1</tspan></text>
<text x="415.9" y="433.3" text-anchor="middle" class="cap"><tspan style="font-weight:normal">(</tspan>d<tspan style="font-weight:normal">)</tspan></text>
<path d="M324.5,228.7H345.5" stroke="#5048b8" stroke-width="1.3" fill="none"/>
<path d="M324.5,242.5H345.5" stroke="#108a10" stroke-width="1.6" fill="none" stroke-dasharray="6.6 4 1.2 4"/>
<path d="M324.7,255.9H345.5" stroke="#f28a2a" stroke-width="1.8" fill="none" stroke-dasharray="1.8 5.7"/>
<text x="348.6" y="232.1" class="lg" style="font-size:9.55px"><tspan>1</tspan><tspan dy="-3.8" font-size="6">st</tspan><tspan dy="3.8"> </tspan> loading/unloading cycle</text>
<text x="348.6" y="245.5" class="lg" style="font-size:9.55px"><tspan>2</tspan><tspan dy="-3.8" font-size="6">nd</tspan><tspan dy="3.8"> </tspan> loading/unloading cycle</text>
<text x="348.6" y="258.9" class="lg" style="font-size:9.55px"><tspan>3</tspan><tspan dy="-3.8" font-size="6">rd</tspan><tspan dy="3.8">-10</tspan><tspan dy="-3.8" font-size="6">th</tspan><tspan dy="3.8"> </tspan> loading/unloading cycle</text>
<path d="M500.8,240.1 C500.17,241.47 498.32,245.57 497,248.3 C495.68,251.03 494.5,253.18 492.9,256.5 C491.3,259.82 489.12,264.08 487.4,268.2 C485.68,272.32 483.83,277.73 482.6,281.2 C481.37,284.67 481.4,285.25 480,289 C478.6,292.75 475.73,299.88 474.2,303.7 C472.67,307.52 471.93,309.17 470.8,311.9 C469.67,314.63 468.88,316.67 467.4,320.1 C465.92,323.53 463.63,328.52 461.9,332.5 C460.17,336.48 458.8,340.02 457,344 C455.2,347.98 453.03,352.52 451.1,356.4 C449.17,360.28 447.3,363.97 445.4,367.3 C443.5,370.63 441.6,373.83 439.7,376.4 C437.8,378.97 435.9,380.98 434,382.7 C432.1,384.42 430.2,385.72 428.3,386.7 C426.4,387.68 424.52,388.17 422.6,388.6 C420.68,389.03 418.9,389.1 416.8,389.3 C414.7,389.5 422.25,389.68 410,389.8 C397.75,389.92 354.42,389.97 343.3,390" stroke="#5048b8" stroke-width="1.3" fill="none" stroke-linejoin="round"/>
<path d="M500.8,240.1 C500.17,241.47 498.32,245.57 497,248.3 C495.68,251.03 494.5,253.18 492.9,256.5 C491.3,259.82 489.12,264.08 487.4,268.2 C485.68,272.32 483.83,277.73 482.6,281.2 C481.37,284.67 481.4,285.25 480,289 C478.6,292.75 475.73,299.88 474.2,303.7 C472.67,307.52 471.93,309.17 470.8,311.9 C469.67,314.63 468.88,316.67 467.4,320.1 C465.92,323.53 463.63,328.52 461.9,332.5 C460.17,336.48 458.8,340.02 457,344 C455.2,347.98 453.03,352.52 451.1,356.4 C449.17,360.28 447.3,363.97 445.4,367.3 C443.5,370.63 441.6,373.83 439.7,376.4 C437.8,378.97 435.9,380.98 434,382.7 C432.1,384.42 430.2,385.72 428.3,386.7 C426.4,387.68 424.52,388.17 422.6,388.6 C420.68,389.03 418.9,389.1 416.8,389.3 C414.7,389.5 422.25,389.68 410,389.8 C397.75,389.92 354.42,389.97 343.3,390" stroke="#108a10" stroke-width="1.5" fill="none" stroke-dasharray="6.6 4 1.2 4"/>
<path d="M500.8,240.1 L497,248.3" stroke="#108a10" stroke-width="1.5" fill="none" stroke-dasharray="6.6 4 1.2 4"/>
<path d="M500.8,240.1 L497,248.3" stroke="#f28a2a" stroke-width="1.6" fill="none" stroke-dasharray="1.6 5.5" stroke-dashoffset="3"/>
<path d="M500.8,240.1 C500.17,241.47 498.32,245.57 497,248.3 C495.68,251.03 494.5,253.18 492.9,256.5 C491.3,259.82 489.12,264.08 487.4,268.2 C485.68,272.32 483.83,277.73 482.6,281.2 C481.37,284.67 481.4,285.25 480,289 C478.6,292.75 475.73,299.88 474.2,303.7 C472.67,307.52 471.93,309.17 470.8,311.9 C469.67,314.63 468.88,316.67 467.4,320.1 C465.92,323.53 463.63,328.52 461.9,332.5 C460.17,336.48 458.8,340.02 457,344 C455.2,347.98 453.03,352.52 451.1,356.4 C449.17,360.28 447.3,363.97 445.4,367.3 C443.5,370.63 441.6,373.83 439.7,376.4 C437.8,378.97 435.9,380.98 434,382.7 C432.1,384.42 430.2,385.72 428.3,386.7 C426.4,387.68 424.52,388.17 422.6,388.6 C420.68,389.03 418.9,389.1 416.8,389.3 C414.7,389.5 422.25,389.68 410,389.8 C397.75,389.92 354.42,389.97 343.3,390" stroke="#f28a2a" stroke-width="1.6" fill="none" stroke-dasharray="1.6 5.5" stroke-dashoffset="3"/>
<path d="M319.2,390.2 C319.9,386.85 321.98,376.82 323.4,370.1 C324.82,363.38 326.28,356.28 327.7,349.9 C329.12,343.52 330.67,336.75 331.9,331.8 C333.13,326.85 334.08,323.27 335.1,320.2 C336.12,317.13 336.93,315.43 338,313.4 C339.07,311.37 339.9,309.8 341.5,308 C343.1,306.2 344.92,304.13 347.6,302.6 C350.28,301.07 354.05,299.88 357.6,298.8 C361.15,297.72 364.33,296.95 368.9,296.1 C373.47,295.25 380.65,294.37 385,293.7 C389.35,293.03 391.58,292.67 395,292.1 C398.42,291.53 400.5,291.18 405.5,290.3 C410.5,289.42 418.72,288.07 425,286.8 C431.28,285.53 437.13,284.13 443.2,282.7 C449.27,281.27 456.85,279.4 461.4,278.2 C465.95,277 468.13,276.3 470.5,275.5 C472.87,274.7 473.93,274.22 475.6,273.4 C477.27,272.58 478.77,271.82 480.5,270.6 C482.23,269.38 484.4,267.75 486,266.1 C487.6,264.45 488.83,262.52 490.1,260.7 C491.37,258.88 492.45,257.27 493.6,255.2 C494.75,253.13 495.8,250.82 497,248.3 C498.2,245.78 500.17,241.47 500.8,240.1" stroke="#5048b8" stroke-width="1.3" fill="none"/>
<path d="M343.3,389.9 C343.78,388.15 345.2,383.4 346.2,379.4 C347.2,375.4 348.18,370.82 349.3,365.9 C350.42,360.98 351.92,354.22 352.9,349.9 C353.88,345.58 354.52,342.98 355.2,340 C355.88,337.02 356.28,334.78 357,332 C357.72,329.22 358.67,325.92 359.5,323.3 C360.33,320.68 361.05,318.18 362,316.3 C362.95,314.42 363.52,313.77 365.2,312 C366.88,310.23 369.6,307.48 372.1,305.7 C374.6,303.92 376.77,302.77 380.2,301.3 C383.63,299.83 387.43,298.43 392.7,296.9 C397.97,295.37 405.43,293.48 411.8,292.1 C418.17,290.72 425.03,289.87 430.9,288.6 C436.77,287.33 442.15,285.6 447,284.5 C451.85,283.4 455.55,283.23 460,282 C464.45,280.77 470.28,278.88 473.7,277.1 C477.12,275.32 478.45,273.13 480.5,271.3 C482.55,269.47 484.28,267.98 486,266.1 C487.72,264.22 489.38,262.1 490.8,260 C492.22,257.9 493.47,255.45 494.5,253.5 C495.53,251.55 495.95,250.53 497,248.3 C498.05,246.07 500.17,241.47 500.8,240.1" stroke="#108a10" stroke-width="1.6" fill="none" stroke-dasharray="6.6 4 1.2 4"/>
<path d="M346.5,389.9 C346.65,388.77 346.98,385.5 347.4,383.1 C347.82,380.7 348.42,378 349,375.5 C349.58,373 350.35,370.63 350.9,368.1 C351.45,365.57 351.8,362.83 352.3,360.3 C352.8,357.77 353.38,355.37 353.9,352.9 C354.42,350.43 354.88,347.82 355.4,345.5 C355.92,343.18 356.32,341.35 357,339 C357.68,336.65 358.7,333.92 359.5,331.4 C360.3,328.88 360.92,326.33 361.8,323.9 C362.68,321.47 363.62,318.78 364.8,316.8 C365.98,314.82 367.27,313.75 368.9,312 C370.53,310.25 372.6,307.98 374.6,306.3 C376.6,304.62 378.73,303.15 380.9,301.9 C383.07,300.65 385.25,299.63 387.6,298.8 C389.95,297.97 392.55,297.53 395,296.9 C397.45,296.27 399.82,295.53 402.3,295 C404.78,294.47 407.47,294.23 409.9,293.7 C412.33,293.17 414.47,292.33 416.9,291.8 C419.33,291.27 422.07,290.97 424.5,290.5 C426.93,290.03 429.17,289.52 431.5,289 C433.83,288.48 436.05,287.95 438.5,287.4 C440.95,286.85 442.62,286.52 446.2,285.7 C449.78,284.88 455.42,283.9 460,282.5 C464.58,281.1 470.28,279.13 473.7,277.3 C477.12,275.47 478.45,273.33 480.5,271.5 C482.55,269.67 484.28,268.22 486,266.3 C487.72,264.38 489.38,262.13 490.8,260 C492.22,257.87 493.47,255.45 494.5,253.5 C495.53,251.55 495.95,250.53 497,248.3 C498.05,246.07 500.17,241.47 500.8,240.1" stroke="#f28a2a" stroke-width="1.8" fill="none" stroke-dasharray="1.8 5.7"/>
<path d="M385.1,288.6L408.53,285.95" stroke="#999" stroke-width="0.95"/>
<path d="M412.5,285.5L408.67,287.19L408.38,284.71Z" fill="#111"/>
<path d="M477.3,309.9L468.21,332.2" stroke="#999" stroke-width="0.95"/>
<path d="M466.7,335.9L467.05,331.72L469.37,332.67Z" fill="#111"/>
<circle cx="338" cy="313.4" r="1.3" fill="#ee1111"/>
<circle cx="362" cy="316.3" r="1.3" fill="#ee1111"/>
<circle cx="364.8" cy="316.8" r="1.3" fill="#ee1111"/>
<text x="324.6" y="311.5" class="pl" font-style="italic">P</text>
<text transform="translate(329.3,313.7) scale(0.5)" class="pl" style="font-size:10.2px;stroke-width:0.4px">in</text>
<text transform="translate(330.2,307.3) scale(0.5)" class="pl" style="font-size:9.6px;stroke-width:0.25px">1<tspan font-size="7.2" dy="-2.6">st</tspan></text>
<text x="347.5" y="321.8" class="pl" font-style="italic">P</text>
<text transform="translate(352.2,324) scale(0.5)" class="pl" style="font-size:10.2px;stroke-width:0.4px">in</text>
<text transform="translate(353.1,317.6) scale(0.5)" class="pl" style="font-size:9.6px;stroke-width:0.25px">2<tspan font-size="7.2" dy="-2.6">nd</tspan></text>
<text x="369.3" y="324.5" class="pl" font-style="italic">P</text>
<text transform="translate(374,326.7) scale(0.5)" class="pl" style="font-size:10.2px;stroke-width:0.4px">in</text>
<text transform="translate(374.9,320.3) scale(0.5)" class="pl" style="font-size:9.6px;stroke-width:0.25px">3<tspan font-size="7.2" dy="-2.6">rd</tspan><tspan dy="2.6">-10</tspan><tspan font-size="7.2" dy="-2.6">th</tspan></text></g>
</svg>
</body></html>
